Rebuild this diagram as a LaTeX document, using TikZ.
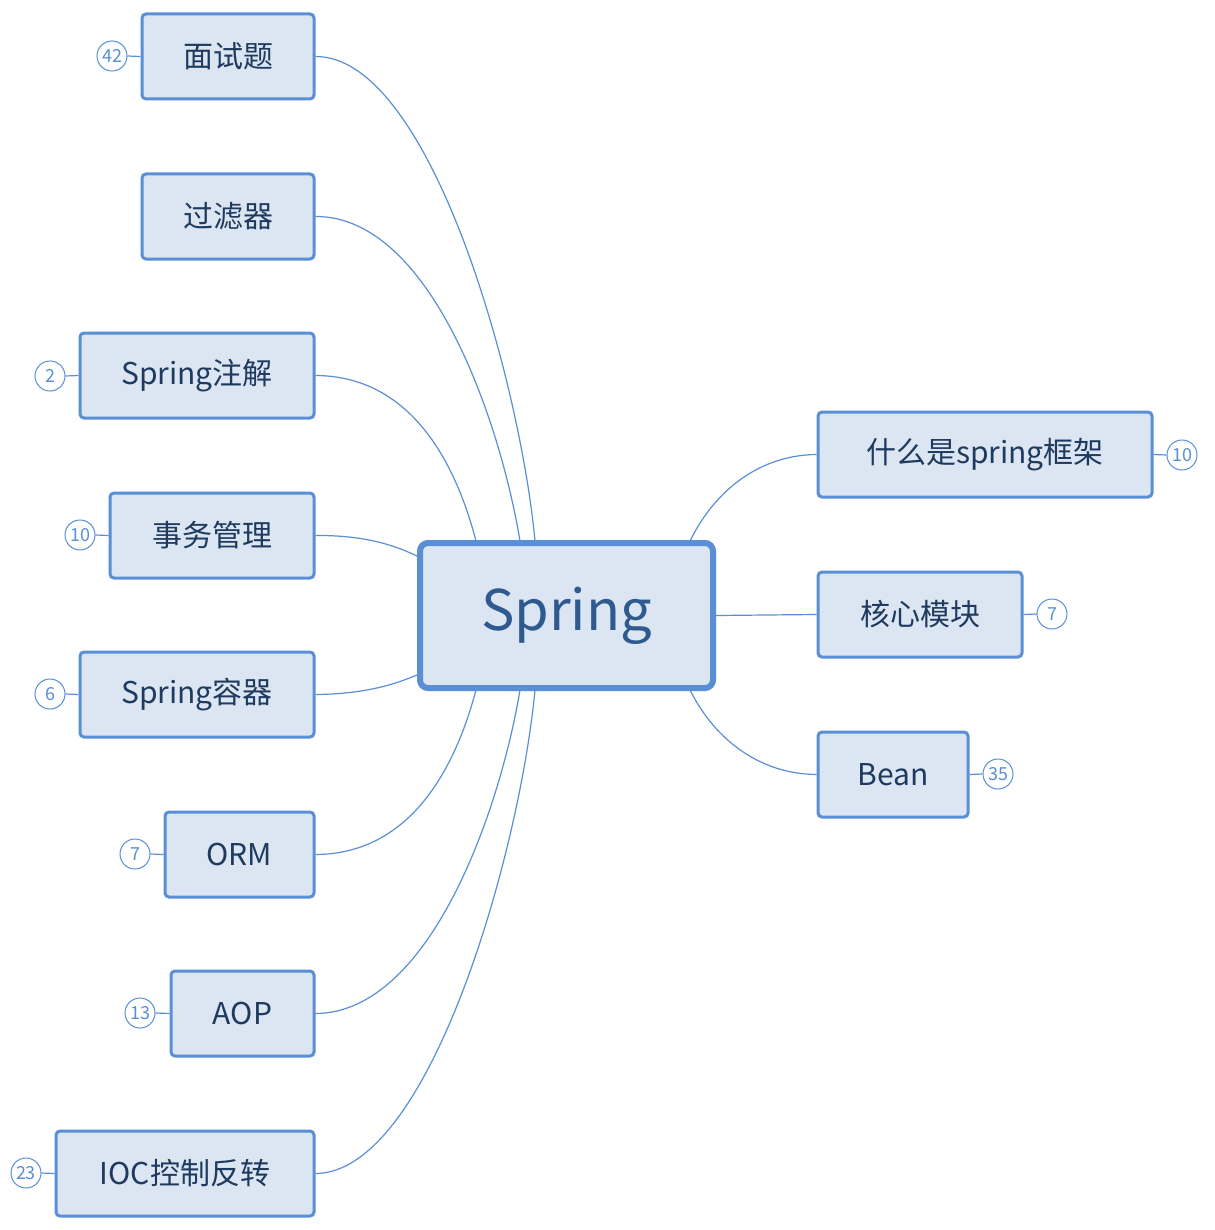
\documentclass[tikz,border=0pt]{standalone}
\usepackage{fontspec}
\setmainfont{Noto Sans CJK SC}
\begin{document}
\begin{tikzpicture}[x=0.5pt,y=-0.5pt,
  box/.style={draw=bd,fill=bf,line width=1.5pt,rounded corners=2pt,text=tx,font=\fontsize{15}{18}\selectfont,inner sep=0pt,anchor=center},
  badge/.style={draw=bd,fill=white,circle,line width=0.5pt,minimum size=15pt,inner sep=0pt,text=bd,font=\fontsize{9}{10}\selectfont},
  link/.style={draw=bd,line width=0.6pt}]
\definecolor{bd}{HTML}{5A8FD6}
\definecolor{bf}{HTML}{DCE6F2}
\definecolor{tx}{HTML}{1F3A5F}
\definecolor{st}{HTML}{2F5A8F}
\useasboundingbox (0,0) rectangle (1214,1230);
\fill[white] (0,0) rectangle (1214,1230);
% helper for boxes: minimum sizes in pt = px/2
\node[box,minimum width=86pt,minimum height=42.5pt] (n1) at (228,56.5) {面试题};
\node[box,minimum width=86pt,minimum height=42.5pt] (n2) at (228,216.5) {过滤器};
\node[box,minimum width=117pt,minimum height=42.5pt] (n3) at (197,375.5) {Spring注解};
\node[box,minimum width=102pt,minimum height=42.5pt] (n4) at (212,535.5) {事务管理};
\node[box,minimum width=117pt,minimum height=42.5pt] (n5) at (197,694.5) {Spring容器};
\node[box,minimum width=74.5pt,minimum height=42.5pt] (n6) at (239.5,854.5) {ORM};
\node[box,minimum width=71.5pt,minimum height=42.5pt] (n7) at (242.5,1013.5) {AOP};
\node[box,minimum width=129pt,minimum height=42.5pt] (n8) at (185,1173.5) {IOC控制反转};
\node[box,line width=3pt,rounded corners=4pt,minimum width=146.5pt,minimum height=72.5pt,text=st,font=\fontsize{28}{32}\selectfont] (s) at (566.5,615.5) {Spring};
\node[box,minimum width=167pt,minimum height=42.5pt] (r1) at (985,454.5) {什么是spring框架};
\node[box,minimum width=102pt,minimum height=42.5pt] (r2) at (920,614.5) {核心模块};
\node[box,minimum width=75pt,minimum height=42.5pt] (r3) at (893,774.5) {Bean};
% badges
\node[badge] (b1) at (112,56) {42};
\node[badge] (b3) at (50,376) {2};
\node[badge] (b4) at (80,535) {10};
\node[badge] (b5) at (50,694) {6};
\node[badge] (b6) at (135,854) {7};
\node[badge] (b7) at (140,1013) {13};
\node[badge] (b8) at (26,1173) {23};
\node[badge] (c1) at (1182,455) {10};
\node[badge] (c2) at (1052,614) {7};
\node[badge] (c3) at (998,774) {35};
\foreach \a/\b in {b1/n1,b3/n3,b4/n4,b5/n5,b6/n6,b7/n7,b8/n8}{\draw[link] (\a.east) -- (\b.west);}
\foreach \a/\b in {c1/r1,c2/r2,c3/r3}{\draw[link] (\a.west) -- (\b.east);}
% attach points on Spring
\coordinate (t1) at (535,541); \coordinate (t2) at (520,541); \coordinate (t3) at (476,541);
\coordinate (t4) at (417,556); \coordinate (t5) at (417,675); \coordinate (t6) at (476,690);
\coordinate (t7) at (520,690); \coordinate (t8) at (535,690);
\coordinate (u1) at (690,541); \coordinate (u3) at (690,690);
\draw[link] (n1.east) .. controls (430,56) and (520,380) .. (t1);
\draw[link] (n2.east) .. controls (430,216) and (500,420) .. (t2);
\draw[link] (n3.east) .. controls (420,376) and (460,480) .. (t3);
\draw[link] (n4.east) .. controls (370,535) and (400,548) .. (t4);
\draw[link] (n5.east) .. controls (370,694) and (400,682) .. (t5);
\draw[link] (n6.east) .. controls (420,854) and (460,750) .. (t6);
\draw[link] (n7.east) .. controls (430,1013) and (500,810) .. (t7);
\draw[link] (n8.east) .. controls (430,1173) and (520,850) .. (t8);
\draw[link] (u1) .. controls (715,490) and (760,455) .. (r1.west);
\draw[link] (s.east) -- (r2.west);
\draw[link] (u3) .. controls (715,740) and (760,774) .. (r3.west);
\end{tikzpicture}
\end{document}
